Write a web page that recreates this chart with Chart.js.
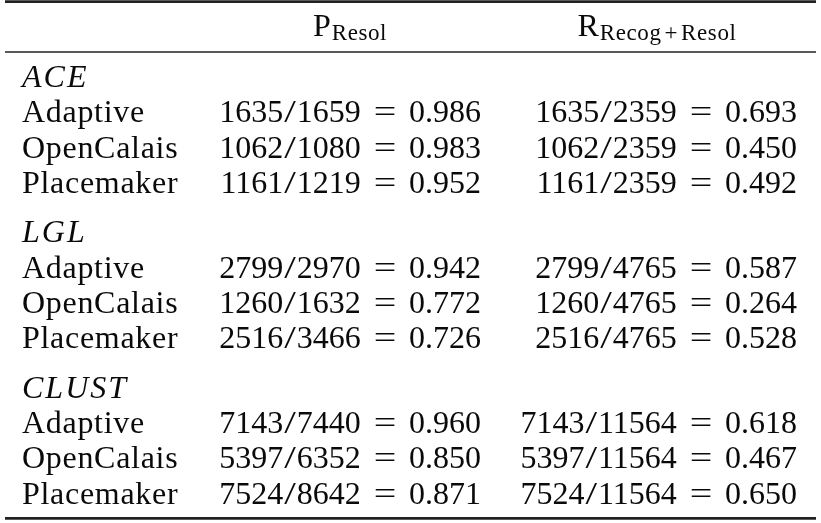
<!DOCTYPE html>
<html>
<head>
<meta charset="utf-8">
<script src="https://cdn.jsdelivr.net/npm/chart.js@4"></script>
<style>
  html, body { margin: 0; padding: 0; background: #ffffff; }
  #wrap { width: 821px; height: 523px; position: relative; }
</style>
</head>
<body>
<div id="wrap"><canvas id="c"></canvas></div>
<script>
// ---------------- data ----------------
const groups = ['ACE', 'LGL', 'CLUST'];
const systems = ['Adaptive', 'OpenCalais', 'Placemaker'];
const headerMain = ['P', 'R'];
const headerSub = ['Resol', 'Recog+Resol'];
// P_Resol = correct resolutions / resolutions made
const resolCorrect = [[1635, 1062, 1161], [2799, 1260, 2516], [7143, 5397, 7524]];
const resolMade    = [[1659, 1080, 1219], [2970, 1632, 3466], [7440, 6352, 8642]];
const pResol       = [[0.986, 0.983, 0.952], [0.942, 0.772, 0.726], [0.960, 0.850, 0.871]];
// R_Recog+Resol = correct resolutions / gold toponyms
const goldTotal    = [2359, 4765, 11564];
const rRecogResol  = [[0.693, 0.450, 0.492], [0.587, 0.264, 0.528], [0.618, 0.467, 0.650]];

// ---------------- layout (not data) ----------------
const GROUP_GAP = 0.4;              // extra row space between groups
const ROW_HEADER = -1.445;          // header baseline, in row units
const RULES = [ {y: -2.42, w: 2.8}, {y: -0.99, w: 1.6}, {y: 12.22, w: 2.8} ];
const COL = { name: 0.0268, p: 0.5859, r: 0.9708, pHead: 0.4263, rHead: 0.8002, ruleL: 0.0061, ruleR: 0.9939 };
const FONT = '"Liberation Serif", "Times New Roman", serif';
const SIZE = 32, SUB = 23;
const INK = '#0a0a0a';

function rowOf(g, r) { return g * (4 + GROUP_GAP) + (r < 0 ? 0 : 1 + r); }

// build point lists from the data arrays
const groupPts = [], namePts = [], pPts = [], rPts = [];
groups.forEach((gName, g) => {
  groupPts.push({x: COL.name, y: rowOf(g, -1), label: gName});
  systems.forEach((s, i) => {
    namePts.push({x: COL.name, y: rowOf(g, i), label: s});
    pPts.push({x: COL.p, y: rowOf(g, i), frac: resolCorrect[g][i] + '/' + resolMade[g][i], val: pResol[g][i].toFixed(3)});
    rPts.push({x: COL.r, y: rowOf(g, i), frac: resolCorrect[g][i] + '/' + goldTotal[g], val: rRecogResol[g][i].toFixed(3)});
  });
});
const headPts = [
  {x: COL.pHead, y: ROW_HEADER, main: headerMain[0], sub: headerSub[0]},
  {x: COL.rHead, y: ROW_HEADER, main: headerMain[1], sub: headerSub[1]}
];

const tablePlugin = {
  id: 'tableText',
  afterDatasetsDraw(chart) {
    const ctx = chart.ctx;
    const xs = chart.scales.x, ys = chart.scales.y;
    ctx.save();
    // rules
    ctx.strokeStyle = '#222222';
    RULES.forEach(r => {
      const py = ys.getPixelForValue(r.y);
      ctx.lineWidth = r.w;
      ctx.beginPath();
      ctx.moveTo(xs.getPixelForValue(COL.ruleL), py);
      ctx.lineTo(xs.getPixelForValue(COL.ruleR), py);
      ctx.stroke();
    });
    ctx.fillStyle = INK;
    ctx.textBaseline = 'alphabetic';
    chart.data.datasets.forEach((ds, di) => {
      const meta = chart.getDatasetMeta(di);
      meta.data.forEach((el, i) => {
        const d = ds.data[i];
        const x = el.x, y = el.y;
        if (ds.kind === 'group') {
          ctx.font = 'italic ' + SIZE + 'px ' + FONT;
          ctx.textAlign = 'left';
          ctx.letterSpacing = '2px';
          ctx.fillText(d.label, x, y);
          ctx.letterSpacing = '0px';
        } else if (ds.kind === 'name') {
          ctx.font = SIZE + 'px ' + FONT;
          ctx.textAlign = 'left';
          ctx.letterSpacing = '0.7px';
          ctx.fillText(d.label, x, y);
          ctx.letterSpacing = '0px';
        } else if (ds.kind === 'cell') {
          ctx.font = SIZE + 'px ' + FONT;
          ctx.textAlign = 'right';
          const gap = SIZE * 0.4;
          let cx = x;
          ctx.fillText(d.val, cx, y);
          cx -= ctx.measureText(d.val).width + gap;
          ctx.save();
          ctx.translate(cx, y);
          ctx.scale(1.25, 1);
          ctx.fillText('=', 0, 0);
          ctx.restore();
          cx -= ctx.measureText('=').width * 1.25 + gap;
          const parts = d.frac.split('/');
          ctx.fillText(parts[1], cx, y);
          cx -= ctx.measureText(parts[1]).width + 1;
          ctx.save();
          ctx.translate(cx, y);
          ctx.scale(1.3, 1);
          ctx.fillText('/', 0, 0);
          ctx.restore();
          cx -= ctx.measureText('/').width * 1.3 + 1;
          ctx.fillText(parts[0], cx, y);
        } else if (ds.kind === 'head') {
          ctx.font = SIZE + 'px ' + FONT;
          const mw = ctx.measureText(d.main).width;
          ctx.font = SUB + 'px ' + FONT;
          // subscript: split around '+' to give the operator a little room
          const segs = d.sub.split('+');
          const plusGap = 3;
          ctx.letterSpacing = '0.6px';
          let sw = 0;
          segs.forEach((s, k) => { sw += ctx.measureText(s).width; if (k < segs.length - 1) sw += ctx.measureText('+').width + 2 * plusGap; });
          const left = x - (mw + 1 + sw) / 2;
          ctx.textAlign = 'left';
          let sx = left + mw + 1;
          segs.forEach((s, k) => {
            ctx.fillText(s, sx, y + 4);
            sx += ctx.measureText(s).width;
            if (k < segs.length - 1) {
              sx += plusGap;
              ctx.fillText('+', sx, y + 4);
              sx += ctx.measureText('+').width + plusGap;
            }
          });
          ctx.letterSpacing = '0px';
          ctx.font = SIZE + 'px ' + FONT;
          ctx.fillText(d.main, left, y);
        }
      });
    });
    ctx.restore();
  }
};

new Chart(document.getElementById('c'), {
  type: 'scatter',
  data: {
    datasets: [
      {label: 'groups', kind: 'group', data: groupPts, pointRadius: 0},
      {label: 'systems', kind: 'name', data: namePts, pointRadius: 0},
      {label: 'P_Resol', kind: 'cell', data: pPts, pointRadius: 0},
      {label: 'R_Recog+Resol', kind: 'cell', data: rPts, pointRadius: 0},
      {label: 'header', kind: 'head', data: headPts, pointRadius: 0}
    ]
  },
  options: {
    responsive: true,
    maintainAspectRatio: false,
    animation: false,
    layout: { padding: 0 },
    plugins: { legend: { display: false }, tooltip: { enabled: false } },
    events: [],
    scales: {
      x: { type: 'linear', min: 0, max: 1, display: false },
      y: { type: 'linear', min: -2.4646, max: 12.351, reverse: true, display: false }
    }
  },
  plugins: [tablePlugin]
});
</script>
</body>
</html>
